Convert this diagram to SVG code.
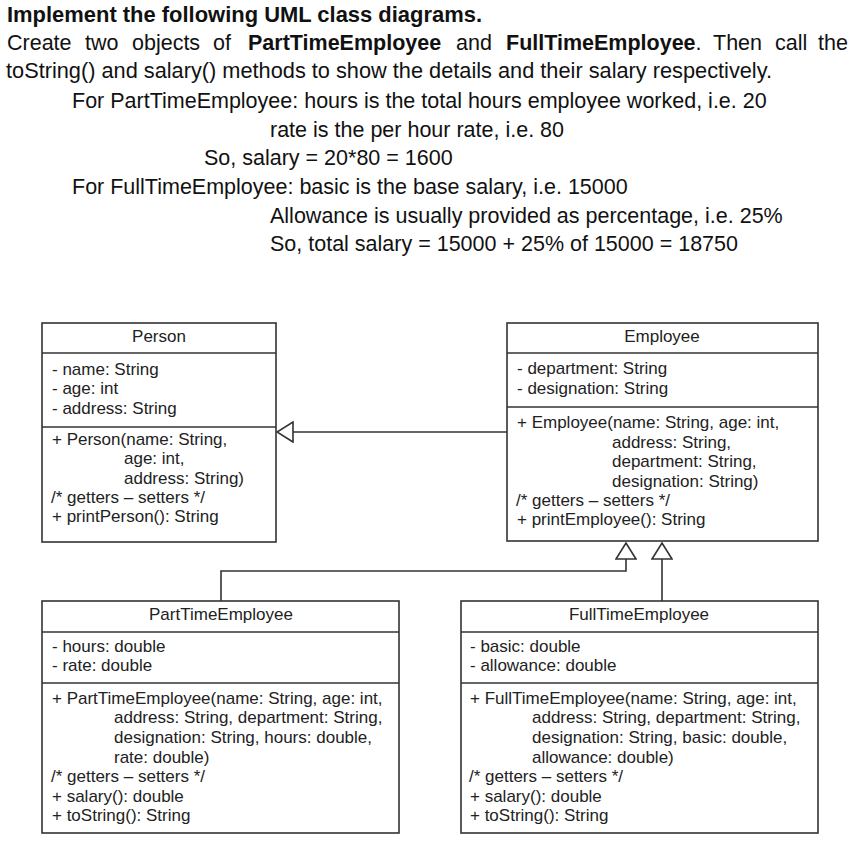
<svg xmlns="http://www.w3.org/2000/svg" width="858" height="841" viewBox="0 0 858 841">
<style>
.t{font-family:"Liberation Sans",Arial,Helvetica,sans-serif;font-size:21.5px;fill:#111}
.b{font-weight:bold}
.c{font-family:"Liberation Sans",Arial,Helvetica,sans-serif;font-size:17px;fill:#222}
.m{text-anchor:middle}
.box{fill:#fff;stroke:#333;stroke-width:1.6}
.ln{stroke:#333;stroke-width:1.6;fill:none}
</style>
<defs>
<marker id="tri" viewBox="0 0 18 22" refX="17" refY="11" markerWidth="18" markerHeight="22" markerUnits="userSpaceOnUse" orient="auto">
<path d="M1,1 L17,11 L1,21 Z" fill="#fff" stroke="#333" stroke-width="1.6"/>
</marker>
</defs>
<rect width="858" height="841" fill="#fff"/>

<g id="description">
<text class="t b" x="7" y="22" font-size="22" textLength="475" lengthAdjust="spacingAndGlyphs">Implement the following UML class diagrams.</text>
<text class="t" y="50"><tspan x="7">Create</tspan><tspan x="85">two</tspan><tspan x="132">objects</tspan><tspan x="213">of</tspan><tspan x="248" class="b">PartTimeEmployee</tspan><tspan x="456">and</tspan><tspan x="506" class="b">FullTimeEmployee</tspan><tspan>.</tspan><tspan x="713">Then</tspan><tspan x="775">call</tspan><tspan x="818">the</tspan></text>
<text class="t" x="6" y="78" textLength="766" lengthAdjust="spacingAndGlyphs">toString() and salary() methods to show the details and their salary respectively.</text>
<text class="t" x="72" y="108">For PartTimeEmployee: hours is the total hours employee worked, i.e. 20</text>
<text class="t" x="270" y="137">rate is the per hour rate, i.e. 80</text>
<text class="t" x="204" y="165">So, salary = 20*80 = 1600</text>
<text class="t" x="72" y="194">For FullTimeEmployee: basic is the base salary, i.e. 15000</text>
<text class="t" x="270" y="223">Allowance is usually provided as percentage, i.e. 25%</text>
<text class="t" x="270" y="251">So, total salary = 15000 + 25% of 15000 = 18750</text>
</g>

<g id="connectors">
<path class="ln" d="M507,432 L277,432" marker-end="url(#tri)"/>
<path class="ln" d="M221,601 L221,571 L626,571 L626,543" marker-end="url(#tri)"/>
<path class="ln" d="M662,601 L662,543" marker-end="url(#tri)"/>
</g>

<g id="Person">
<rect class="box" x="42" y="323" width="234" height="219"/>
<line class="ln" x1="42" y1="353" x2="276" y2="353"/>
<line class="ln" x1="42" y1="427" x2="276" y2="427"/>
<text class="c m" x="159" y="342">Person</text>
<text class="c" x="52" y="375">- name: String</text>
<text class="c" x="52" y="394">- age: int</text>
<text class="c" x="52" y="414">- address: String</text>
<text class="c" x="52" y="445">+ Person(name: String,</text>
<text class="c" x="124" y="464">age: int,</text>
<text class="c" x="124" y="484">address: String)</text>
<text class="c" x="51" y="503">/* getters – setters */</text>
<text class="c" x="52" y="522">+ printPerson(): String</text>
</g>

<g id="Employee">
<rect class="box" x="507" y="323" width="311" height="218"/>
<line class="ln" x1="507" y1="353" x2="818" y2="353"/>
<line class="ln" x1="507" y1="407" x2="818" y2="407"/>
<text class="c m" x="662" y="342">Employee</text>
<text class="c" x="517" y="374">- department: String</text>
<text class="c" x="517" y="394">- designation: String</text>
<text class="c" x="517" y="428">+ Employee(name: String, age: int,</text>
<text class="c" x="612" y="448">address: String,</text>
<text class="c" x="612" y="467">department: String,</text>
<text class="c" x="612" y="487">designation: String)</text>
<text class="c" x="516" y="506">/* getters – setters */</text>
<text class="c" x="517" y="525">+ printEmployee(): String</text>
</g>

<g id="PartTimeEmployee">
<rect class="box" x="42" y="601" width="357" height="232"/>
<line class="ln" x1="42" y1="632" x2="399" y2="632"/>
<line class="ln" x1="42" y1="683" x2="399" y2="683"/>
<text class="c m" x="221" y="620">PartTimeEmployee</text>
<text class="c" x="52" y="652">- hours: double</text>
<text class="c" x="52" y="671">- rate: double</text>
<text class="c" x="52" y="704">+ PartTimeEmployee(name: String, age: int,</text>
<text class="c" x="114" y="723">address: String, department: String,</text>
<text class="c" x="114" y="743">designation: String, hours: double,</text>
<text class="c" x="114" y="763">rate: double)</text>
<text class="c" x="51" y="782">/* getters – setters */</text>
<text class="c" x="52" y="802">+ salary(): double</text>
<text class="c" x="52" y="821">+ toString(): String</text>
</g>

<g id="FullTimeEmployee">
<rect class="box" x="461" y="601" width="357" height="232"/>
<line class="ln" x1="461" y1="632" x2="818" y2="632"/>
<line class="ln" x1="461" y1="683" x2="818" y2="683"/>
<text class="c m" x="639" y="620">FullTimeEmployee</text>
<text class="c" x="470" y="652">- basic: double</text>
<text class="c" x="470" y="671">- allowance: double</text>
<text class="c" x="470" y="704">+ FullTimeEmployee(name: String, age: int,</text>
<text class="c" x="532" y="723">address: String, department: String,</text>
<text class="c" x="532" y="743">designation: String, basic: double,</text>
<text class="c" x="532" y="763">allowance: double)</text>
<text class="c" x="469" y="782">/* getters – setters */</text>
<text class="c" x="470" y="802">+ salary(): double</text>
<text class="c" x="470" y="821">+ toString(): String</text>
</g>
</svg>
